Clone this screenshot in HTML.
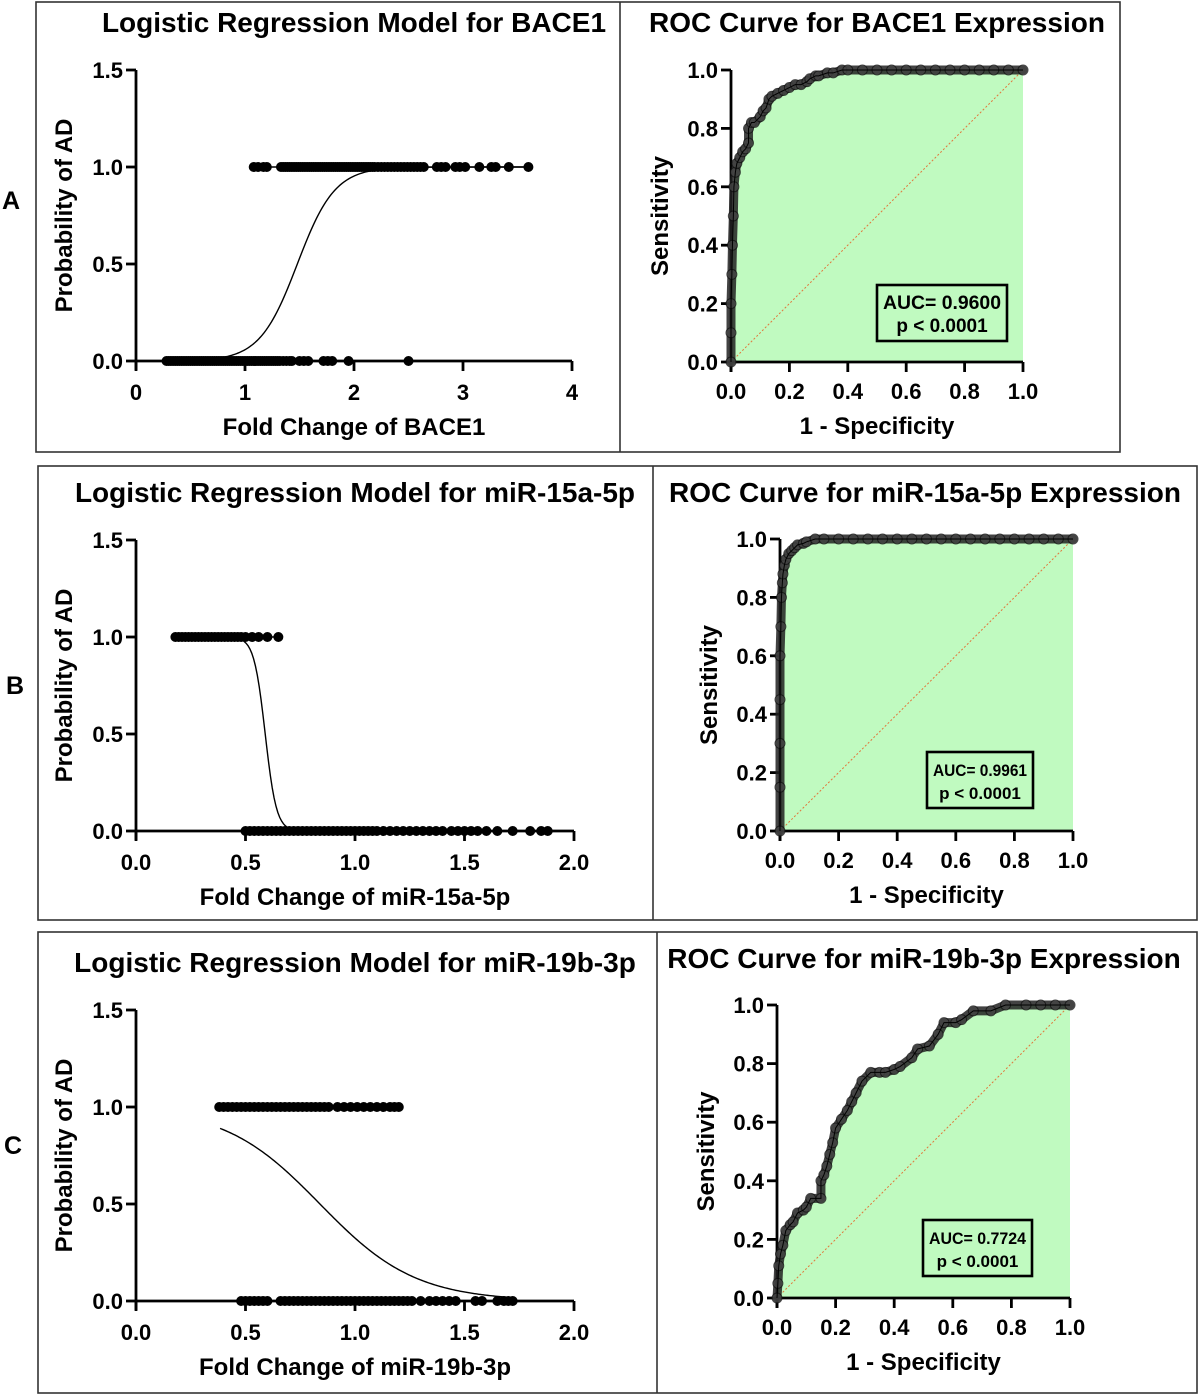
<!DOCTYPE html>
<html><head><meta charset="utf-8">
<style>
html,body{margin:0;padding:0;background:#fff;}
svg{display:block;font-family:"Liberation Sans",Arial,sans-serif;font-weight:bold;}
</style></head>
<body>
<svg id="fig" width="1200" height="1396" viewBox="0 0 1200 1396" xmlns="http://www.w3.org/2000/svg">
  <rect x="0" y="0" width="1200" height="1396" fill="#fff"/>
  <g fill="none" stroke="#333" stroke-width="1.6">
    <rect x="36" y="2" width="1084" height="450"/>
    <line x1="620" y1="2" x2="620" y2="452"/>
    <rect x="38" y="466" width="1159" height="454"/>
    <line x1="653" y1="466" x2="653" y2="920"/>
    <rect x="38" y="932" width="1159" height="461"/>
    <line x1="657" y1="932" x2="657" y2="1393"/>
  </g>
  <text x="2" y="209" font-size="25">A</text>
  <text x="6" y="694" font-size="25">B</text>
  <text x="4" y="1154" font-size="25">C</text>
</svg>
<script>
// ---------- data ----------
const logATicksX = ["0","1","2","3","4"];
const logBTicksX = ["0.0","0.5","1.0","1.5","2.0"];
const logCTicksX = ["0.0","0.5","1.0","1.5","2.0"];
const logTicksY = ["0.0","0.5","1.0","1.5"];
const rocTicks = ["0.0","0.2","0.4","0.6","0.8","1.0"];

const bace1Zero = [0.28,0.30,0.32,0.34,0.36,0.38,0.40,0.42,0.44,0.46,0.48,0.50,0.52,0.54,0.56,0.58,0.60,0.62,0.64,0.66,0.68,0.70,0.72,0.74,0.76,0.78,0.80,0.82,0.84,0.86,0.88,0.90,0.92,0.94,0.96,0.98,1.00,1.02,1.04,1.06,1.08,1.10,1.12,1.14,1.16,1.18,1.20,1.22,1.24,1.26,1.28,1.30,1.32,1.35,1.38,1.41,1.43,1.50,1.54,1.58,1.72,1.76,1.80,1.95,2.50];
const bace1One = [1.08,1.12,1.17,1.20,1.33,1.35,1.37,1.39,1.41,1.43,1.45,1.47,1.49,1.51,1.53,1.55,1.57,1.59,1.61,1.63,1.65,1.67,1.69,1.71,1.73,1.75,1.77,1.79,1.81,1.83,1.85,1.87,1.89,1.91,1.93,1.95,1.97,1.99,2.01,2.03,2.05,2.07,2.09,2.11,2.13,2.15,2.17,2.19,2.22,2.25,2.28,2.31,2.34,2.37,2.40,2.43,2.46,2.49,2.52,2.55,2.58,2.61,2.64,2.76,2.80,2.84,2.93,2.97,3.02,3.15,3.26,3.30,3.42,3.60];
const bace1Fit = {mid:1.48, k:5.8, from:0.28, to:3.6};

const mir15Zero = [0.50,0.52,0.54,0.56,0.58,0.60,0.62,0.64,0.66,0.68,0.70,0.72,0.74,0.76,0.78,0.80,0.82,0.84,0.86,0.88,0.90,0.92,0.94,0.96,0.98,1.00,1.02,1.04,1.06,1.08,1.10,1.13,1.16,1.19,1.22,1.25,1.28,1.31,1.34,1.37,1.40,1.44,1.47,1.50,1.53,1.56,1.60,1.65,1.72,1.80,1.85,1.88];
const mir15One = [0.18,0.195,0.21,0.225,0.24,0.255,0.27,0.285,0.30,0.315,0.33,0.345,0.36,0.375,0.39,0.405,0.42,0.435,0.45,0.465,0.48,0.50,0.53,0.56,0.60,0.65];
const mir15Fit = {mid:0.59, k:-39, from:0.18, to:1.88};

const mir19Zero = [0.48,0.50,0.52,0.54,0.56,0.58,0.60,0.66,0.68,0.70,0.72,0.74,0.76,0.78,0.80,0.82,0.84,0.86,0.88,0.90,0.92,0.94,0.96,0.98,1.00,1.02,1.04,1.06,1.08,1.10,1.12,1.14,1.16,1.18,1.20,1.22,1.24,1.26,1.30,1.34,1.37,1.40,1.43,1.46,1.55,1.58,1.65,1.68,1.70,1.72];
const mir19One = [0.38,0.40,0.42,0.44,0.46,0.48,0.50,0.52,0.54,0.56,0.58,0.60,0.62,0.64,0.66,0.68,0.70,0.72,0.74,0.76,0.78,0.80,0.82,0.84,0.86,0.88,0.92,0.95,0.98,1.01,1.04,1.07,1.10,1.13,1.16,1.18,1.20];
const mir19Fit = {mid:0.84, k:-4.58, from:0.384, to:1.72};

const rocAfpr = [0,0,0,0.003,0.005,0.008,0.01,0.015,0.02,0.03,0.04,0.05,0.06,0.06,0.07,0.08,0.1,0.11,0.12,0.13,0.14,0.16,0.18,0.2,0.22,0.24,0.26,0.27,0.29,0.3,0.33,0.35,0.38,0.4,0.45,0.5,0.55,0.6,0.65,0.7,0.75,0.8,0.85,0.9,0.95,1];
const rocAtpr = [0,0.1,0.2,0.3,0.4,0.5,0.6,0.65,0.68,0.7,0.72,0.73,0.75,0.8,0.82,0.82,0.84,0.86,0.87,0.9,0.91,0.92,0.93,0.94,0.95,0.95,0.96,0.97,0.98,0.98,0.99,0.99,1,1,1,1,1,1,1,1,1,1,1,1,1,1];
const rocBfpr = [0,0,0,0,0,0.003,0.005,0.008,0.01,0.015,0.02,0.03,0.04,0.05,0.06,0.08,0.09,0.12,0.15,0.2,0.25,0.3,0.35,0.4,0.45,0.5,0.55,0.6,0.65,0.7,0.75,0.8,0.85,0.9,0.95,1];
const rocBtpr = [0,0.15,0.3,0.45,0.6,0.7,0.8,0.85,0.88,0.91,0.93,0.95,0.96,0.97,0.98,0.985,0.99,1,1,1,1,1,1,1,1,1,1,1,1,1,1,1,1,1,1,1];
const rocCfpr = [0,0.003,0.006,0.012,0.02,0.03,0.045,0.055,0.07,0.09,0.10,0.115,0.15,0.15,0.16,0.17,0.18,0.19,0.20,0.22,0.24,0.255,0.27,0.29,0.32,0.35,0.37,0.40,0.42,0.46,0.48,0.52,0.55,0.57,0.61,0.63,0.67,0.73,0.78,0.85,0.9,0.95,1];
const rocCtpr = [0,0.05,0.11,0.15,0.18,0.23,0.25,0.26,0.29,0.3,0.31,0.34,0.34,0.40,0.42,0.45,0.49,0.53,0.58,0.61,0.64,0.67,0.70,0.74,0.77,0.77,0.77,0.78,0.79,0.82,0.85,0.86,0.90,0.94,0.94,0.95,0.98,0.98,1,1,1,1,1];

const aucLabels = ["AUC= 0.9600","AUC= 0.9961","AUC= 0.7724"];

// ---------- drawing ----------
const svg = document.getElementById('fig');
const NS = 'http://www.w3.org/2000/svg';
function mk(tag, attrs, parent){
  const e = document.createElementNS(NS, tag);
  for (const k in attrs) e.setAttribute(k, attrs[k]);
  (parent||svg).appendChild(e);
  return e;
}

function logistic(cfg){
  const g = mk('g', {});
  
  
  const sx = v => cfg.x0 + (v - cfg.xmin) / (cfg.xmax - cfg.xmin) * (cfg.x1 - cfg.x0);
  const sy = v => cfg.y0 - v / 1.5 * (cfg.y0 - cfg.y1);
  const t = mk('text', {x: cfg.tx, y: cfg.ty, 'font-size': 28, 'text-anchor': 'middle'}, g);
  t.textContent = cfg.title;
  
  
  const ax = mk('g', {stroke: '#000', 'stroke-width': 2.8, fill: 'none'}, g);
  
  
  mk('line', {x1: cfg.x0, y1: sy(0), x2: cfg.x1, y2: sy(0)}, ax);
  mk('line', {x1: cfg.x0, y1: sy(0) + 9, x2: cfg.x0, y2: sy(1.5)}, ax);
  cfg.xticks.forEach((lab, i) => {
    const v = cfg.xmin + i * (cfg.xmax - cfg.xmin) / (cfg.xticks.length - 1);
    mk('line', {x1: sx(v), y1: sy(0), x2: sx(v), y2: sy(0) + 10}, ax);
    const tx = mk('text', {x: sx(v), y: sy(0) + 39, 'font-size': 22, 'text-anchor': 'middle'}, g);
    tx.textContent = lab;
    
    
  });
  logTicksY.forEach((lab, i) => {
    const v = i * 0.5;
    mk('line', {x1: cfg.x0 - 10, y1: sy(v), x2: cfg.x0, y2: sy(v)}, ax);
    const ty = mk('text', {x: cfg.x0 - 13, y: sy(v) + 8, 'font-size': 22, 'text-anchor': 'end'}, g);
    ty.textContent = lab;
    
    
  });
  const xt = mk('text', {x: (cfg.x0 + cfg.x1) / 2, y: sy(0) + 74, 'font-size': 24, 'text-anchor': 'middle'}, g);
  xt.textContent = cfg.xtitle;
  
  
  const yc = (sy(0) + sy(1.5)) / 2;
  const yt = mk('text', {x: 0, y: 0, 'font-size': 24, 'text-anchor': 'middle', transform: `translate(${cfg.x0 - 64},${yc}) rotate(-90)`}, g);
  yt.textContent = 'Probability of AD';
  
  
  [[cfg.zero, 0], [cfg.one, 1]].forEach(([arr, yv]) => {
    const xs = arr.map(sx);
    mk('line', {x1: Math.min(...xs), y1: sy(yv), x2: Math.max(...xs), y2: sy(yv), stroke: '#000', 'stroke-width': 1.5}, g);
    arr.forEach(v => {
      const c = mk('circle', {cx: sx(v), cy: sy(yv), r: 5, fill: '#000'}, g);
      
      
    });
  });
  let d = '';
  const f = cfg.fit;
  for (let i = 0; i <= 200; i++) {
    const v = f.from + (f.to - f.from) * i / 200;
    const p = 1 / (1 + Math.exp(-f.k * (v - f.mid)));
    d += (i ? 'L' : 'M') + sx(v).toFixed(2) + ',' + sy(p).toFixed(2);
  }
  const fc = mk('path', {d: d, fill: 'none', stroke: '#000', 'stroke-width': 1.4}, g);
  
  
}

function roc(cfg){
  const g = mk('g', {});
  
  
  const sx = v => cfg.x0 + v * (cfg.x1 - cfg.x0);
  const sy = v => cfg.y0 - v * (cfg.y0 - cfg.y1);
  const t = mk('text', {x: cfg.tx, y: cfg.ty, 'font-size': 28, 'text-anchor': 'middle'}, g);
  t.textContent = cfg.title;
  
  
  let d = 'M' + sx(0) + ',' + sy(0);
  cfg.fpr.forEach((v, i) => { d += 'L' + sx(v) + ',' + sy(cfg.tpr[i]); });
  d += 'L' + sx(1) + ',' + sy(0) + 'Z';
  const area = mk('path', {d: d, fill: '#c0fac0', stroke: 'none'}, g);
  
  
  const diag = mk('line', {x1: sx(0), y1: sy(0), x2: sx(1), y2: sy(1), stroke: '#e0783c', 'stroke-width': 1, 'stroke-dasharray': '2,2'}, g);
  
  
  const ax = mk('g', {stroke: '#000', 'stroke-width': 2.8, fill: 'none'}, g);
  
  
  mk('line', {x1: sx(0), y1: sy(0), x2: sx(1), y2: sy(0)}, ax);
  mk('line', {x1: sx(0), y1: sy(0) + 10, x2: sx(0), y2: sy(1)}, ax);
  rocTicks.forEach((lab, i) => {
    const v = i / 5;
    mk('line', {x1: sx(v), y1: sy(0), x2: sx(v), y2: sy(0) + 10}, ax);
    mk('line', {x1: sx(0) - 10, y1: sy(v), x2: sx(0), y2: sy(v)}, ax);
    const tx = mk('text', {x: sx(v), y: sy(0) + 37, 'font-size': 22, 'text-anchor': 'middle'}, g);
    tx.textContent = lab;
    
    
    const ty = mk('text', {x: sx(0) - 13, y: sy(v) + 8, 'font-size': 22, 'text-anchor': 'end'}, g);
    ty.textContent = lab;
    
    
  });
  let c = '';
  cfg.fpr.forEach((v, i) => { c += (i ? 'L' : 'M') + sx(v) + ',' + sy(cfg.tpr[i]); });
  const line = mk('path', {d: c, fill: 'none', stroke: '#222', 'stroke-width': 9, 'stroke-linejoin': 'round', 'stroke-linecap': 'round', opacity: 0.85}, g);
  
  
  cfg.fpr.forEach((v, i) => {
    const p = mk('circle', {cx: sx(v), cy: sy(cfg.tpr[i]), r: 5, fill: '#444', stroke: '#111', 'stroke-width': 1, opacity: 0.75}, g);
    
    
  });
  mk('path', {d: c, fill: 'none', stroke: '#000', 'stroke-width': 1}, g);
  const xt = mk('text', {x: (sx(0) + sx(1)) / 2, y: sy(0) + 72, 'font-size': 24, 'text-anchor': 'middle'}, g);
  xt.textContent = '1 - Specificity';
  
  
  const yc = (sy(0) + sy(1)) / 2;
  const yt = mk('text', {x: 0, y: 0, 'font-size': 24, 'text-anchor': 'middle', transform: `translate(${sx(0) - 63},${yc}) rotate(-90)`}, g);
  yt.textContent = 'Sensitivity';
  
  
  const b = mk('g', {}, g);
  
  
  mk('rect', {x: cfg.bx, y: cfg.by, width: cfg.bw, height: 56, fill: 'none', stroke: '#000', 'stroke-width': 2.6}, b);
  const fs = cfg.bw < 120 ? 17 : 19;
  const l1 = mk('text', {x: cfg.bx + cfg.bw / 2, y: cfg.by + 24, 'font-size': fs, 'text-anchor': 'middle', textLength: cfg.bw - 12, lengthAdjust: 'spacingAndGlyphs'}, b);
  l1.textContent = cfg.auc;
  const l2 = mk('text', {x: cfg.bx + cfg.bw / 2, y: cfg.by + 47, 'font-size': fs, 'text-anchor': 'middle'}, b);
  l2.textContent = 'p < 0.0001';
}

logistic({name:'bace1-logistic-chart', title:'Logistic Regression Model for BACE1', tx:354, ty:32,
  x0:136, x1:572, xmin:0, xmax:4, y0:361, y1:70, xticks:logATicksX, xtitle:'Fold Change of BACE1',
  zero:bace1Zero, one:bace1One, fit:bace1Fit});
logistic({name:'mir15a-logistic-chart', title:'Logistic Regression Model for miR-15a-5p', tx:355, ty:502,
  x0:136, x1:574, xmin:0, xmax:2, y0:831, y1:540, xticks:logBTicksX, xtitle:'Fold Change of miR-15a-5p',
  zero:mir15Zero, one:mir15One, fit:mir15Fit});
logistic({name:'mir19b-logistic-chart', title:'Logistic Regression Model for miR-19b-3p', tx:355, ty:972,
  x0:136, x1:574, xmin:0, xmax:2, y0:1301, y1:1010, xticks:logCTicksX, xtitle:'Fold Change of miR-19b-3p',
  zero:mir19Zero, one:mir19One, fit:mir19Fit});

roc({name:'bace1-roc-chart', title:'ROC Curve for BACE1 Expression', tx:877, ty:32,
  x0:731, x1:1023, y0:362, y1:70, fpr:rocAfpr, tpr:rocAtpr, bx:877, by:285, bw:130, auc:aucLabels[0]});
roc({name:'mir15a-roc-chart', title:'ROC Curve for miR-15a-5p Expression', tx:925, ty:502,
  x0:780, x1:1073, y0:831, y1:539, fpr:rocBfpr, tpr:rocBtpr, bx:927, by:752, bw:106, auc:aucLabels[1]});
roc({name:'mir19b-roc-chart', title:'ROC Curve for miR-19b-3p Expression', tx:924, ty:968,
  x0:777, x1:1070, y0:1298, y1:1005, fpr:rocCfpr, tpr:rocCtpr, bx:923, by:1220, bw:109, auc:aucLabels[2]});
</script>
</body></html>
